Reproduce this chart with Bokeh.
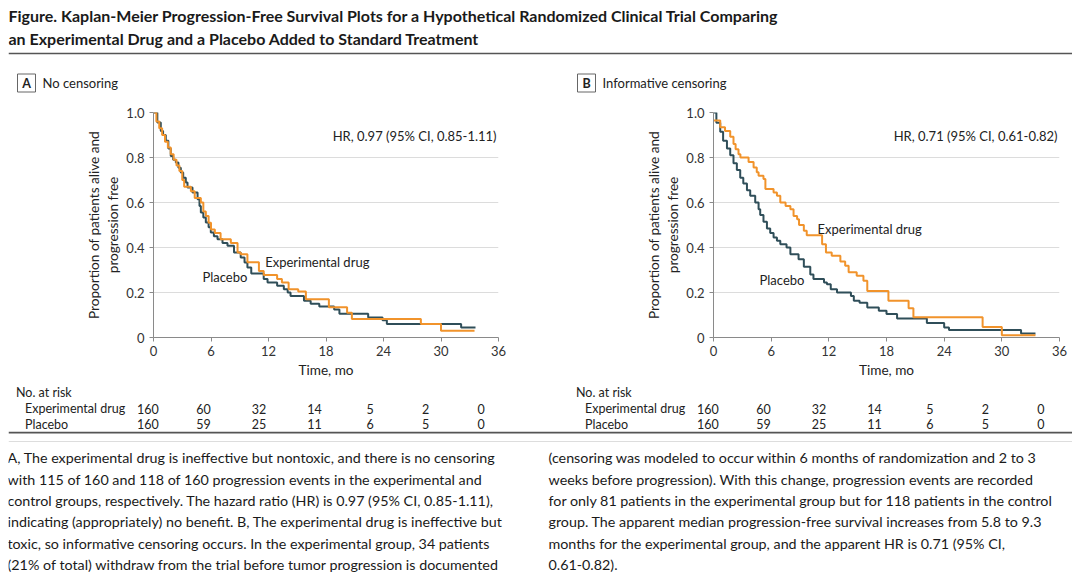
from bokeh.plotting import figure
from bokeh.models import Range1d, FixedTicker, CustomJSTickFormatter, Span
from bokeh.layouts import column, row
from bokeh.core.properties import value
from bokeh.embed import file_html
from bokeh.resources import INLINE

FONT = "Lato"
TEAL = "#2f4e59"
ORANGE = "#f1932b"

# ---------------- data ----------------
# Panel A (no censoring): step points (time in months, proportion)
a_placebo_t = [0, 0.4, 0.76, 1.0, 1.28, 1.55, 1.8, 2.05, 2.33, 2.6, 2.85, 3.1, 3.37, 3.55, 4.07, 4.6, 4.8,
               4.94, 5.2, 5.46, 5.75, 5.98, 6.3, 6.68, 7.2, 7.72, 8.4, 9.1, 9.5, 9.8, 10.2, 11.5, 11.9, 12.9,
               13.6, 14.0, 14.3, 15.7, 16.4, 17.3, 18.85, 19.4, 22.4, 23.9, 24.35, 32.1, 33.6]
a_placebo_s = [1.0, 0.956, 0.918, 0.9, 0.874, 0.84, 0.807, 0.79, 0.778, 0.755, 0.733, 0.71, 0.689, 0.667, 0.644,
               0.615, 0.585, 0.556, 0.533, 0.511, 0.49, 0.467, 0.45, 0.437, 0.42, 0.408, 0.378, 0.356, 0.333,
               0.311, 0.285, 0.26, 0.244, 0.23, 0.215, 0.2, 0.185, 0.163, 0.15, 0.138, 0.125, 0.106, 0.089,
               0.077, 0.06, 0.044, 0.044]
a_drug_t = [0, 0.3, 0.6, 0.9, 1.2, 1.5, 1.8, 2.1, 2.4, 2.7, 3.0, 3.2, 3.9, 4.3, 4.94, 5.2, 5.46, 5.75, 6.0,
            6.4, 7.0, 8.07, 8.77, 9.1, 9.8, 11.0, 11.5, 12.9, 13.4, 14.1, 15.1, 15.9, 18.3, 20.2, 20.7, 27.9,
            30.0, 33.5]
a_drug_s = [1.0, 0.96, 0.93, 0.9, 0.87, 0.845, 0.815, 0.79, 0.765, 0.74, 0.7, 0.67, 0.65, 0.62, 0.6, 0.56,
            0.54, 0.51, 0.48, 0.465, 0.437, 0.42, 0.378, 0.37, 0.335, 0.296, 0.278, 0.26, 0.245, 0.215, 0.204,
            0.17, 0.135, 0.11, 0.082, 0.06, 0.03, 0.03]

# Panel B (informative censoring)
b_placebo_t = [0, 0.3, 0.7, 1.0, 1.4, 1.74, 2.08, 2.43, 2.78, 3.1, 3.48, 3.82, 4.34, 4.69, 4.86, 5.2, 5.56,
               5.9, 6.25, 6.6, 6.95, 7.6, 8.0, 8.85, 9.4, 10.07, 10.4, 11.5, 11.8, 12.2, 12.85, 14.3, 14.6,
               15.2, 16.0, 17.2, 18.0, 19.1, 22.2, 24.0, 24.5, 32.0, 33.5]
b_placebo_s = [1.0, 0.955, 0.914, 0.875, 0.84, 0.81, 0.775, 0.745, 0.71, 0.685, 0.655, 0.63, 0.6, 0.57,
               0.545, 0.515, 0.485, 0.465, 0.445, 0.43, 0.415, 0.4, 0.37, 0.348, 0.315, 0.28, 0.26, 0.245,
               0.237, 0.215, 0.2, 0.185, 0.163, 0.155, 0.133, 0.119, 0.105, 0.085, 0.065, 0.045, 0.033,
               0.018, 0.018]
b_drug_t = [0, 0.7, 1.2, 1.74, 2.08, 2.3, 2.6, 2.8, 3.65, 4.17, 4.5, 4.69, 5.2, 5.4, 6.25, 6.6, 6.95, 7.5,
            8.0, 8.33, 8.7, 8.9, 9.4, 9.7, 11.3, 11.7, 12.3, 13.2, 13.7, 14.06, 14.9, 15.6, 16.0, 18.2,
            20.3, 20.8, 28.0, 30.0, 33.5]
b_drug_s = [0.965, 0.935, 0.918, 0.892, 0.86, 0.837, 0.815, 0.8, 0.78, 0.756, 0.735, 0.719, 0.704, 0.66,
            0.644, 0.63, 0.6, 0.585, 0.57, 0.54, 0.526, 0.5, 0.475, 0.455, 0.415, 0.378, 0.363, 0.338,
            0.319, 0.29, 0.274, 0.252, 0.207, 0.163, 0.13, 0.09, 0.047, 0.01, 0.01]

# Number at risk
risk_times = [0, 6, 12, 18, 24, 30, 36]
risk_drug = [160, 60, 32, 14, 5, 2, 0]
risk_placebo = [160, 59, 25, 11, 6, 5, 0]

x_ticks = [0, 6, 12, 18, 24, 30, 36]
y_ticks = [0, 0.2, 0.4, 0.6, 0.8, 1.0]

title_lines = [
    "Figure. Kaplan-Meier Progression-Free Survival Plots for a Hypothetical Randomized Clinical Trial Comparing",
    "an Experimental Drug and a Placebo Added to Standard Treatment",
]
caption_left = [
    "A, The experimental drug is ineffective but nontoxic, and there is no censoring",
    "with 115 of 160 and 118 of 160 progression events in the experimental and",
    "control groups, respectively. The hazard ratio (HR) is 0.97 (95% CI, 0.85-1.11),",
    "indicating (appropriately) no benefit. B, The experimental drug is ineffective but",
    "toxic, so informative censoring occurs. In the experimental group, 34 patients",
    "(21% of total) withdraw from the trial before tumor progression is documented",
]
caption_right = [
    "(censoring was modeled to occur within 6 months of randomization and 2 to 3",
    "weeks before progression). With this change, progression events are recorded",
    "for only 81 patients in the experimental group but for 118 patients in the control",
    "group. The apparent median progression-free survival increases from 5.8 to 9.3",
    "months for the experimental group, and the apparent HR is 0.71 (95% CI,",
    "0.61-0.82).",
]


def blank(width, height, xr, yr):
    f = figure(width=width, height=height, x_range=xr, y_range=yr, output_backend="svg",
               toolbar_location=None, min_border=0)
    f.axis.visible = False
    f.grid.visible = False
    f.outline_line_color = None
    return f


# ---------------- header (page y 0..105) ----------------
header = blank(1064, 105, Range1d(0, 1064), Range1d(105, 0))
header.text(x=[0, 0], y=[14.5, 38], text=title_lines, text_font=value(FONT), text_font_style="bold",
            text_font_size="16px", text_color="#1a1a1a", text_baseline="middle")
header.add_layout(Span(location=53, dimension="width", line_color="#555555", line_width=1.5))
for bx, letter, label in [(9, "A", "No censoring"), (569, "B", "Informative censoring")]:
    header.quad(left=[bx], right=[bx + 18], top=[73.5], bottom=[91.5], fill_color="white",
                line_color="#666666", line_width=1)
    header.text(x=[bx + 9], y=[82.5], text=[letter], text_font=value(FONT), text_font_style="bold",
                text_font_size="12.5px", text_color="#222222", text_align="center", text_baseline="middle")
    header.text(x=[bx + 25], y=[82.5], text=[label], text_font=value(FONT),
                text_font_size="13px", text_color="#222222", text_baseline="middle")


# ---------------- KM plots ----------------
def km_plot(left, right, pt, ps, dt, ds, hr, drug_lab, plac_lab):
    p = figure(width=532, height=280, x_range=Range1d(0, 36), y_range=Range1d(0, 1),
               output_backend="svg", toolbar_location=None,
               min_border_left=left, min_border_right=right, min_border_top=7, min_border_bottom=48)
    p.outline_line_color = None
    p.xgrid.visible = False
    p.ygrid.ticker = FixedTicker(ticks=y_ticks)
    p.ygrid.grid_line_color = "#dcdcdc"
    p.ygrid.grid_line_width = 1
    p.xaxis.ticker = FixedTicker(ticks=x_ticks)
    p.yaxis.ticker = FixedTicker(ticks=y_ticks)
    p.yaxis.formatter = CustomJSTickFormatter(code="return tick == 0 ? '0' : tick.toFixed(1);")
    for ax in (p.xaxis, p.yaxis):
        ax.axis_line_color = "#8a8a8a"
        ax.major_tick_line_color = "#8a8a8a"
        ax.minor_tick_line_color = None
        ax.major_tick_in = 0
        ax.major_tick_out = 4
        ax.major_label_text_font = FONT
        ax.major_label_text_font_size = "13px"
        ax.major_label_text_color = "#333333"
        ax.axis_label_text_font = FONT
        ax.axis_label_text_font_size = "13.6px"
        ax.axis_label_text_font_style = "normal"
        ax.axis_label_text_color = "#222222"
    p.xaxis.major_label_standoff = 4
    p.yaxis.major_label_standoff = 5
    p.xaxis.axis_label = "Time, mo"
    p.xaxis.axis_label_standoff = 3
    p.yaxis.axis_label = "Proportion of patients alive and\nprogression free"
    p.yaxis.axis_label_standoff = 2

    p.step(pt, ps, mode="after", line_color=TEAL, line_width=2)
    p.step(dt, ds, mode="after", line_color=ORANGE, line_width=2)

    p.text(x=[35.8], y=[0.896], text=[hr], text_align="right", text_baseline="middle",
           text_font=value(FONT), text_font_size="13px", text_color="#222222")
    p.text(x=[drug_lab[0]], y=[drug_lab[1]], text=["Experimental drug"], text_baseline="middle",
           text_font=value(FONT), text_font_size="13px", text_color="#222222")
    p.text(x=[plac_lab[0]], y=[plac_lab[1]], text=["Placebo"], text_baseline="middle",
           text_font=value(FONT), text_font_size="13px", text_color="#222222")
    return p


pA = km_plot(145, 42, a_placebo_t, a_placebo_s, a_drug_t, a_drug_s,
             "HR, 0.97 (95% CI, 0.85-1.11)", (11.65, 0.337), (5.1, 0.27))
pB = km_plot(173, 13, b_placebo_t, b_placebo_s, b_drug_t, b_drug_s,
             "HR, 0.71 (95% CI, 0.61-0.82)", (10.83, 0.484), (4.79, 0.256))


# ---------------- number at risk ----------------
def risk_fig(start, end):
    f = blank(532, 46, Range1d(start, end), Range1d(46, 0))
    common = dict(text_font=value(FONT), text_font_size="12.5px", text_color="#222222",
                  text_baseline="middle")
    f.text(x=[0], y=[6.5], text=["No. at risk"], x_offset=-132, **common)
    f.text(x=[0, 0], y=[23.3, 38.8], text=["Experimental drug", "Placebo"], x_offset=-123, **common)
    f.text(x=risk_times, y=[23.3] * len(risk_times), text=[str(v) for v in risk_drug],
           text_align="center", **common)
    f.text(x=risk_times, y=[38.8] * len(risk_times), text=[str(v) for v in risk_placebo],
           text_align="center", **common)
    return f


rA = risk_fig(-15.08, 42.43)
rB = risk_fig(-18.11, 39.41)

# ---------------- caption ----------------
cap = blank(1064, 143, Range1d(0, 1064), Range1d(143, 0))
cap.add_layout(Span(location=1, dimension="width", line_color="#555555", line_width=2))
cap.add_layout(Span(location=10, dimension="width", line_color="#dddddd", line_width=1))
cap_y = [26, 47.5, 69, 90.3, 111.6, 133]
cap.text(x=[-1] * 6, y=cap_y, text=caption_left, text_font=value(FONT), text_font_size="14.3px",
         text_color="#1a1a1a", text_baseline="middle")
cap.text(x=[540] * 6, y=cap_y, text=caption_right, text_font=value(FONT), text_font_size="14.3px",
         text_color="#1a1a1a", text_baseline="middle")

layout = column(header, row(pA, pB), row(rA, rB), cap, margin=(0, 8, 8, 8))
open("out.html", "w").write(file_html(layout, INLINE))
